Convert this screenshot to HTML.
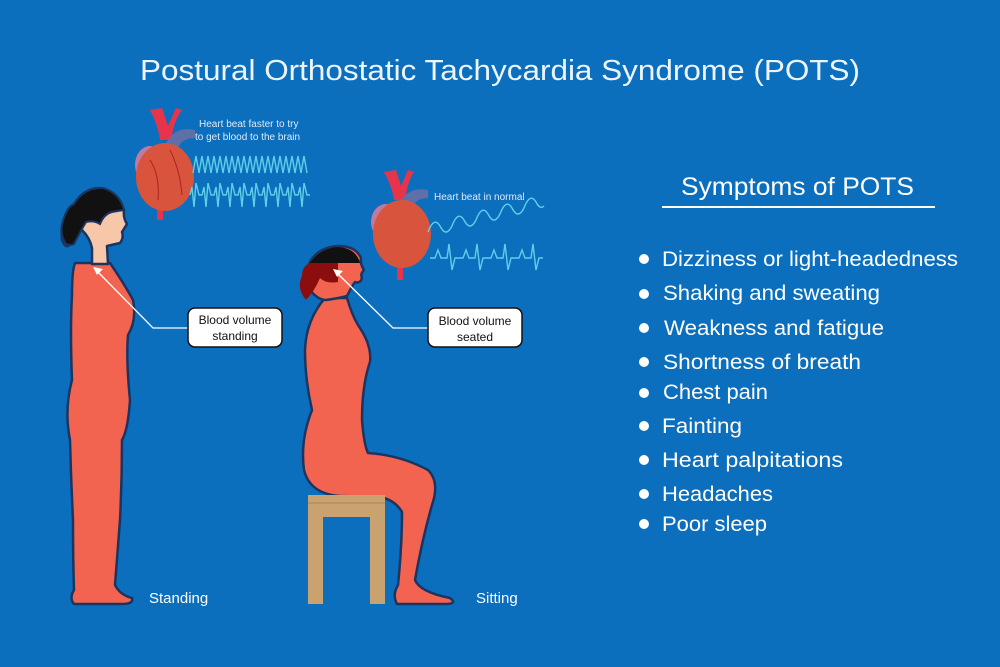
<!DOCTYPE html>
<html><head><meta charset="utf-8"><style>
html,body{margin:0;padding:0;background:#0b6fbe;}
svg{display:block;font-family:"Liberation Sans",sans-serif;}
</style></head><body>
<svg width="1000" height="667" viewBox="0 0 1000 667" xmlns="http://www.w3.org/2000/svg">
<rect width="1000" height="667" fill="#0b6fbe"/>
<text x="140" y="80" font-size="29" fill="#eef4fb" textLength="720" lengthAdjust="spacingAndGlyphs">Postural Orthostatic Tachycardia Syndrome (POTS)</text>

<text x="681" y="195" font-size="25" fill="#fff" textLength="233" lengthAdjust="spacingAndGlyphs">Symptoms of POTS</text>
<rect x="662" y="206" width="273" height="2" fill="#fff"/>
<g fill="#fff" font-size="21">
<circle cx="644" cy="259" r="5"/><text x="662" y="266" textLength="296" lengthAdjust="spacingAndGlyphs">Dizziness or light-headedness</text>
<circle cx="644" cy="294" r="5"/><text x="663" y="300" textLength="217" lengthAdjust="spacingAndGlyphs">Shaking and sweating</text>
<circle cx="644" cy="328" r="5"/><text x="664" y="335" textLength="220" lengthAdjust="spacingAndGlyphs">Weakness and fatigue</text>
<circle cx="644" cy="362" r="5"/><text x="663" y="369" textLength="198" lengthAdjust="spacingAndGlyphs">Shortness of breath</text>
<circle cx="644" cy="393" r="5"/><text x="663" y="399" textLength="105" lengthAdjust="spacingAndGlyphs">Chest pain</text>
<circle cx="644" cy="426" r="5"/><text x="662" y="433" textLength="80" lengthAdjust="spacingAndGlyphs">Fainting</text>
<circle cx="644" cy="460" r="5"/><text x="662" y="467" textLength="181" lengthAdjust="spacingAndGlyphs">Heart palpitations</text>
<circle cx="644" cy="494" r="5"/><text x="662" y="501" textLength="111" lengthAdjust="spacingAndGlyphs">Headaches</text>
<circle cx="644" cy="524" r="5"/><text x="662" y="531" textLength="105" lengthAdjust="spacingAndGlyphs">Poor sleep</text>
</g>

<!-- standing woman -->
<g stroke="#1c3560" stroke-width="2.5" stroke-linejoin="round">
<path d="M75,263 L110,263 Q125,285 133,300 Q137,320 128,335 Q126,360 130,400 Q128,430 122,440 Q122,480 120,520 Q117,560 115,585 Q120,595 132,598 Q134,604 122,604 L74,604 Q69,598 74,590 Q73,560 73,520 Q71,480 70,440 Q64,410 72,380 Q70,330 72,295 Q72,270 75,263Z" fill="#f26450"/>
<path d="M92,264 L108,264 L107,246 L120,243 Q124,238 122,232 L127,224 Q123,218 124,210 Q118,192 100,188 Q84,188 74,204 Q60,220 62,240 Q66,250 70,244 Q74,232 82,230 Q90,238 92,248 Z" fill="#f7c7a9"/>
</g>
<path d="M74,204 Q84,187 103,188 Q120,193 124,210 L112,212 Q104,214 100,224 Q94,220 86,222 Q80,232 74,244 Q70,246 66,244 Q58,232 64,218 Q68,206 74,204 Z" fill="#111" stroke="#1c3560" stroke-width="2"/>

<!-- sitting woman -->
<g stroke="#1c3560" stroke-width="2.5" stroke-linejoin="round">
<path d="M325,298 L347,298 Q352,315 358,325 Q372,345 370,362 Q362,385 362,420 Q364,445 368,453 Q400,455 428,470 Q440,482 432,505 Q422,540 415,580 Q420,592 450,598 Q458,604 445,604 L397,604 Q392,595 398,585 Q402,545 402,512 Q395,500 380,497 L340,496 Q310,494 304,470 Q300,440 312,410 Q305,380 305,350 Q306,320 325,298Z" fill="#f26450"/>
<path d="M326,300 Q340,298 347,296 Q352,286 355,282 Q360,284 362,278 Q360,274 364,270 Q360,264 361,258 Q356,246 338,246 Q320,247 311,260 Q302,275 310,290 Q318,300 326,300 Z" fill="#f26450"/>
</g>
<path d="M310,263 L360,263 Q356,248 338,247 Q320,248 310,263 Z" fill="#111"/>
<path d="M310,263 L338,263 L338,282 Q326,284 320,278 Q314,292 306,300 Q296,288 302,276 Q302,266 310,263 Z" fill="#8b0d0d"/>
<!-- chair -->
<rect x="308" y="495" width="77" height="22" fill="#c9a26f"/>
<rect x="308" y="517" width="15" height="87" fill="#c9a26f"/>
<rect x="370" y="517" width="15" height="87" fill="#c9a26f"/>
<line x1="308" y1="503" x2="385" y2="503" stroke="#a8855a" stroke-width="1"/>

<!-- hearts -->
<g>
<rect x="157" y="195" width="6" height="25" fill="#e8344a"/>
<path d="M150,110 Q158,125 160,140 L172,140 Q172,124 182,110 L176,108 L168,126 L162,108 Z" fill="#e8344a"/>
<path d="M165,145 Q175,125 195,130 L195,138 Q180,138 178,150 Z" fill="#5f6fa8"/>
<ellipse cx="150" cy="165" rx="15" ry="19" fill="#c07aa0"/>
<ellipse cx="165" cy="177" rx="29" ry="34" fill="#d9543c"/>
<path d="M150,160 Q160,175 158,200 M170,150 Q180,170 182,195" stroke="#b02020" fill="none" stroke-width="1"/>
</g>
<g>
<rect x="397" y="250" width="6" height="30" fill="#e8344a"/>
<path d="M384,172 Q392,186 394,200 L406,200 Q406,184 414,172 L408,170 L401,186 L396,170 Z" fill="#e8344a"/>
<path d="M398,205 Q408,186 428,190 L428,198 Q414,198 412,210 Z" fill="#5f6fa8"/>
<ellipse cx="386" cy="222" rx="15" ry="18" fill="#c07aa0"/>
<ellipse cx="402" cy="234" rx="29" ry="34" fill="#d9543c"/>
</g>
<!-- waves -->
<g fill="none" stroke="#5fd0e8" stroke-width="1.4">
<path d="M193,173 l3,-17 l3,17 l3,-17 l3,17 l3,-17 l3,17 l3,-17 l3,17 l3,-17 l3,17 l3,-17 l3,17 l3,-17 l3,17 l3,-17 l3,17 l3,-17 l3,17 l3,-17 l3,17 l3,-17 l3,17 l3,-17 l3,17 l3,-17 l3,17 l3,-17 l3,17 l3,-17 l3,17 l3,-17 l3,17 l3,-17 l3,17 l3,-17 l3,17 l3,-17 l3,17"/>
<path d="M190,195 l2,-8 l2,20 l2,-24 l3,12 h3 l2,-8 l2,20 l2,-24 l3,12 h3 l2,-8 l2,20 l2,-24 l3,12 h3 l2,-8 l2,20 l2,-24 l3,12 h3 l2,-8 l2,20 l2,-24 l3,12 h3 l2,-8 l2,20 l2,-24 l3,12 h3 l2,-8 l2,20 l2,-24 l3,12 h3 l2,-8 l2,20 l2,-24 l3,12 h3 l2,-8 l2,20 l2,-24 l3,12 h3 l2,-8 l2,20 l2,-24 l3,12 h3"/>
<path d="M428,232 q6,-16 12,-6 q6,12 12,0 q6,-16 12,-6 q6,12 12,0 q6,-16 12,-6 q6,12 12,0 q6,-16 12,-6 q6,12 12,0 q6,-16 12,-6 q4,8 8,4"/>
<path d="M430,258 h5 l3,-8 l3,8 h6 l2,-14 l3,26 l3,-12 h8 l3,-8 l3,8 h6 l2,-14 l3,26 l3,-12 h8 l3,-8 l3,8 h6 l2,-14 l3,26 l3,-12 h8 l3,-8 l3,8 h6 l2,-14 l3,26 l3,-12 h4"/>
</g>
<text x="199" y="127" font-size="10" fill="#dfeaf6">Heart beat faster to try</text>
<text x="195" y="140" font-size="10" fill="#dfeaf6">to get blood to the brain</text>
<text x="434" y="200" font-size="10" fill="#dfeaf6">Heart beat in normal</text>

<!-- callouts -->
<g stroke="#fff" stroke-width="1.3" fill="none">
<path d="M188,328 L153,328 L96,270"/>
<path d="M428,328 L393,328 L336,272"/>
</g>
<path d="M93,267 l10,2 l-6,6 z" fill="#fff"/>
<path d="M333,269 l10,2 l-6,6 z" fill="#fff"/>
<rect x="188" y="308" width="94" height="39" rx="7" fill="#fff" stroke="#111" stroke-width="1.5"/>
<rect x="428" y="308" width="94" height="39" rx="7" fill="#fff" stroke="#111" stroke-width="1.5"/>
<g font-size="12" fill="#111" text-anchor="middle">
<text x="235" y="324">Blood volume</text><text x="235" y="340">standing</text>
<text x="475" y="325">Blood volume</text><text x="475" y="341">seated</text>
</g>
<text x="149" y="603" font-size="15" fill="#fff">Standing</text>
<text x="476" y="603" font-size="15" fill="#fff">Sitting</text>
</svg>
</body></html>
